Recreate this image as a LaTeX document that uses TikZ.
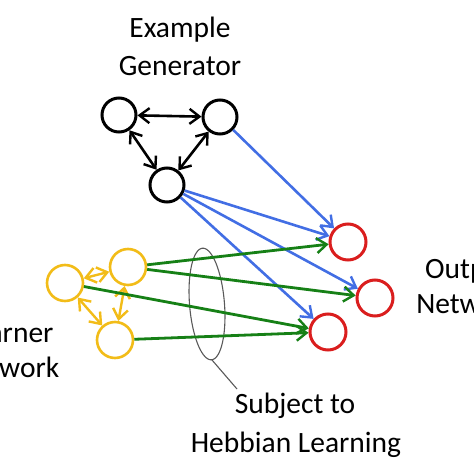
\documentclass[tikz,border=0pt]{standalone}
\usepackage{fontspec}
\setmainfont{Carlito}
\usetikzlibrary{arrows.meta}
\definecolor{eblue}{RGB}{66,110,228}
\definecolor{ered}{RGB}{218,30,30}
\definecolor{eyellow}{RGB}{242,188,24}
\definecolor{egreen}{RGB}{22,128,22}
\begin{document}
\begin{tikzpicture}[x=1pt,y=-1pt,
  circ/.style={circle,draw,inner sep=0pt,line width=3pt,fill=white},
  bnode/.style={circ,draw=black,minimum size=34pt},
  ynode/.style={circ,draw=eyellow,line width=2.6pt,minimum size=36pt},
  rnode/.style={circ,draw=ered,minimum size=36pt},
  tip/.style={-{Straight Barb[length=10pt,width=15pt,line width=2.4pt]}},
  dtip/.style={{Straight Barb[length=10pt,width=15pt,line width=2.4pt]}-{Straight Barb[length=10pt,width=15pt,line width=2.4pt]}},
  blk/.style={dtip,draw=black,line width=2.6pt},
  yel/.style={dtip,draw=eyellow,line width=2.4pt},
  blu/.style={tip,draw=eblue,line width=2.6pt},
  grn/.style={tip,draw=egreen,line width=2.8pt},
  lbl/.style={anchor=base,inner sep=0pt,font=\fontsize{29.5}{36}\selectfont}]
\clip (0,0) rectangle (474,474);
% ellipse marking connections
\draw[gray!70!black,line width=1.1pt] plot[domain=0:360,samples=72,smooth cycle,variable=\t]
  ({207+17.4*cos(\t)+4.5*sin(\t)},{304-1.4*cos(\t)+55.8*sin(\t)});
\coordinate (eb) at (212,360);
\coordinate (ee) at (237,389);
\draw[gray!70!black,line width=1.1pt] (eb) -- (ee);
\node[bnode] (g1) at (119,115) {};
\node[bnode] (g2) at (220,117) {};
\node[bnode] (g3) at (167,185) {};
\node[ynode] (l1) at (65,283) {};
\node[ynode] (l2) at (128,267) {};
\node[ynode] (l3) at (115,340) {};
\node[rnode] (o1) at (348,242) {};
\node[rnode] (o2) at (375,298) {};
\node[rnode] (o3) at (328,332) {};
% black
\draw[blk] (g1) -- (g2);
\draw[blk] (g1) -- (g3);
\draw[blk] (g2) -- (g3);
% yellow
\draw[yel] (l1) -- (l2);
\draw[yel] (l1) -- (l3);
\draw[yel] (l2) -- (l3);
% blue
\draw[blu] (g2) -- (o1);
\draw[blu] (g3) -- (o1);
\draw[blu] (g3) -- (o2);
\draw[blu] (g3) -- (o3);
% green
\draw[grn] (l2) -- (o1);
\draw[grn] (l2) -- (o2);
\draw[grn] (l1) -- (o3);
\draw[grn] (l3) -- (o3);
% labels
\node[lbl] (eg1) at (180,37) {Example};
\node[lbl] (eg2) at (180,75) {Generator};
\node[lbl] (ln1) at (7.5,342) {Learner};
\node[lbl] (ln2) at (7.5,377) {Network};
\node[lbl] (on1) at (468,278) {Output};
\node[lbl] (on2) at (468,313) {Network};
\node[lbl] (hb1) at (295,413) {Subject to};
\node[lbl] (hb2) at (296,452) {Hebbian Learning};
\end{tikzpicture}
\end{document}
